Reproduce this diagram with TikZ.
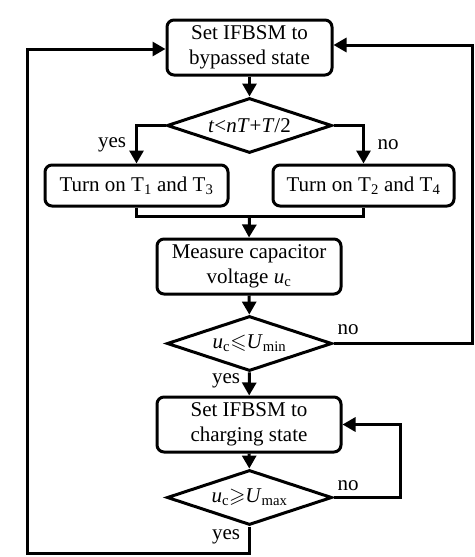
\documentclass[tikz,border=0pt]{standalone}
\usepackage{fontspec}
\usepackage{amssymb}
\setmainfont{Liberation Serif}
\usetikzlibrary{shapes.geometric,arrows.meta}
\begin{document}
\begin{tikzpicture}[x=1pt,y=-1pt,
  every node/.style={font=\fontsize{21}{25}\selectfont},
  proc/.style={draw,line width=3pt,rounded corners=7pt,align=center,inner sep=0pt},
  dec/.style={draw,line width=3pt,diamond,aspect=3,inner sep=0pt,minimum width=165pt,minimum height=55pt},
  flow/.style={line width=3pt,-{Triangle[length=13pt,width=14pt]}},
  plain/.style={line width=3pt},
  lbl/.style={inner sep=0pt}]
\fill[white] (0,0) rectangle (474,557);
\useasboundingbox (0,0) rectangle (474,557);
\node[proc,minimum width=165pt,minimum height=55pt] (b1) at (249.5,47.5) {Set IFBSM to\\bypassed state};
\node[dec] (d1) at (249.5,125.5) {\textit{t}<\textit{nT}+\textit{T}/2};
\node[proc,minimum width=183pt,minimum height=41pt] (b2) at (136.5,185.5) {Turn on T\textsubscript{1} and T\textsubscript{3}};
\node[proc,minimum width=181pt,minimum height=41pt] (b3) at (363.5,185.5) {Turn on T\textsubscript{2} and T\textsubscript{4}};
\node[proc,minimum width=184pt,minimum height=55pt] (b4) at (249,266.5) {Measure capacitor\\voltage \textit{u}\textsubscript{c}};
\node[dec] (d2) at (249.5,343.5) {\textit{u}\textsubscript{c}$\leqslant$\textit{U}\textsubscript{min}};
\node[proc,minimum width=184pt,minimum height=55pt] (b5) at (249,424.5) {Set IFBSM to\\charging state};
\node[dec] (d3) at (249.5,497.5) {\textit{u}\textsubscript{c}$\geqslant$\textit{U}\textsubscript{max}};
\node[lbl] (y1) at (112,145) {yes};
\node[lbl] (n1) at (388,145) {no};
\node[lbl] (n2) at (348,330) {no};
\node[lbl] (y2) at (226,381) {yes};
\node[lbl] (n3) at (348,486) {no};
\node[lbl] (y3) at (226,537) {yes};
\coordinate (m) at (249.5,216);
\coordinate (ml) at (136.5,216);
\coordinate (mr) at (363.5,216);
\coordinate (rb) at (472,343.5);
\coordinate (rt) at (472,45);
\coordinate (lb) at (27,553);
\coordinate (lt) at (27,49);
\coordinate (cb) at (400,497.5);
\coordinate (ct) at (400,424.5);
\draw[flow] (b1) -- (d1);
\draw[flow] (d1.west) -| (b2.north);
\draw[flow] (d1.east) -| (b3.north);
\draw[plain] (b2.south) -- (ml) -- (mr) -- (b3.south);
\draw[flow] (m) -- (b4.north);
\draw[flow] (b4) -- (d2);
\draw[flow] (d2) -- (b5);
\draw[flow] (b5) -- (d3);
\draw[flow] (d2.east) -- (rb) -- (rt) -- (rt -| b1.east);
\draw[flow] (d3.east) -- (cb) -- (ct) -- (b5.east);
\draw[flow] (d3.south) |- (lb) -- (lt) -- (lt -| b1.west);
\end{tikzpicture}
\end{document}
